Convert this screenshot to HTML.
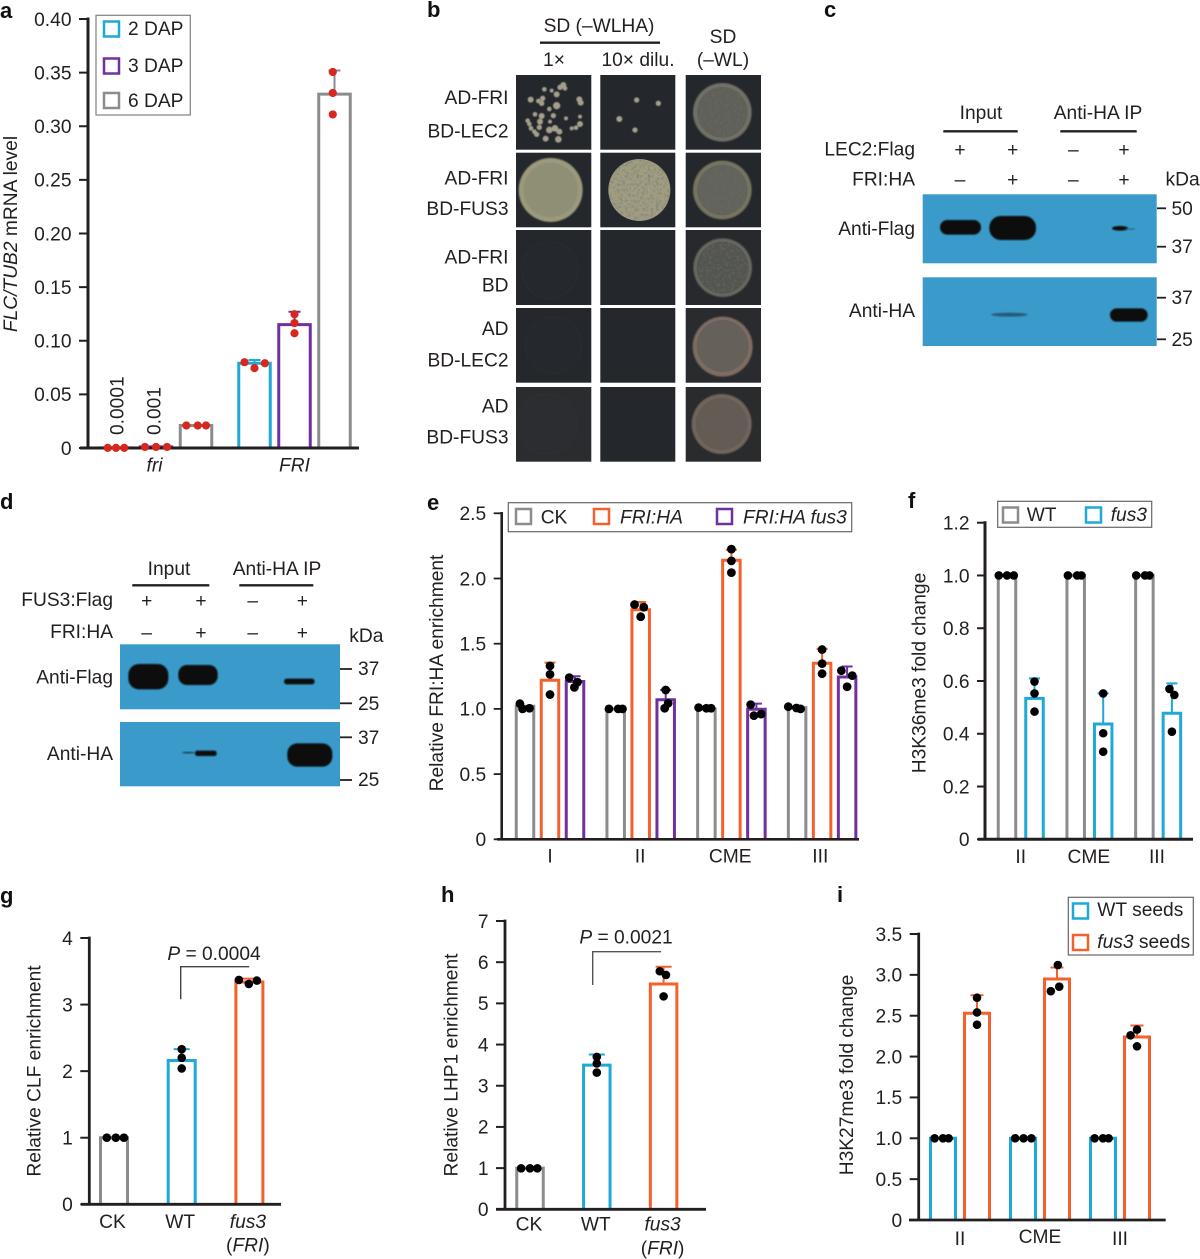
<!DOCTYPE html>
<html lang="en">
<head>
<meta charset="utf-8">
<title>FUS3 and LEC2 interaction with FRI figure</title>
<style>
html,body{margin:0;padding:0;background:#fff;}
svg{display:block;}
text{font-family:"Liberation Sans",sans-serif;font-size:19.2px;fill:#231f20;}
.pl{font-weight:bold;font-size:22px;fill:#111;}
.i{font-style:italic;}
</style>
</head>
<body>
<svg id="fig" xmlns="http://www.w3.org/2000/svg" width="1200" height="1259" viewBox="0 0 1200 1259">
<defs>
<filter id="blurS" x="-30%" y="-30%" width="160%" height="160%"><feGaussianBlur stdDeviation="2"/></filter>
<filter id="blurC" x="-40%" y="-40%" width="180%" height="180%"><feGaussianBlur stdDeviation="1.6"/></filter>
<filter id="grain" x="0" y="0" width="100%" height="100%">
<feTurbulence type="fractalNoise" baseFrequency="0.12" numOctaves="2" seed="4"/>
<feColorMatrix values="0 0 0 0 0.15  0 0 0 0 0.15  0 0 0 0 0.15  0 0 0 1.5 -0.66"/>
<feComposite in2="SourceGraphic" operator="in"/>
<feGaussianBlur stdDeviation="0.8"/>
<feMerge><feMergeNode in="SourceGraphic"/><feMergeNode/></feMerge>
</filter>
</defs>

<g>
<text class="pl" x="0" y="18">a</text>
<text class="pl" x="427" y="17">b</text>
<text class="pl" x="824" y="17">c</text>
<text class="pl" x="0" y="509">d</text>
<text class="pl" x="427" y="510">e</text>
<text class="pl" x="908" y="508">f</text>
<text class="pl" x="0" y="903">g</text>
<text class="pl" x="441" y="902">h</text>
<text class="pl" x="837" y="902">i</text>
</g>

<!-- Panel b -->
<g>
<text x="599" y="32" text-anchor="middle">SD (–WLHA)</text>
<line x1="540" y1="42.7" x2="660" y2="42.7" stroke="#231f20" stroke-width="2.4"/>
<text x="554" y="66" text-anchor="middle">1×</text>
<text x="638" y="66" text-anchor="middle">10× dilu.</text>
<text x="723" y="43" text-anchor="middle">SD</text>
<text x="723" y="66" text-anchor="middle">(–WL)</text>
<g text-anchor="end">
<text x="508.5" y="104">AD-FRI</text><text x="508.5" y="137.5">BD-LEC2</text>
<text x="508.5" y="184.5">AD-FRI</text><text x="508.5" y="215">BD-FUS3</text>
<text x="508.5" y="263.5">AD-FRI</text><text x="508.5" y="291.7">BD</text>
<text x="508.5" y="335">AD</text><text x="508.5" y="366.7">BD-LEC2</text>
<text x="508.5" y="412.7">AD</text><text x="508.5" y="443.5">BD-FUS3</text>
</g>
<g fill="#24272c">
<rect x="516" y="75" width="75.3" height="74.7"/><rect x="600.3" y="75" width="75" height="74.7"/><rect x="685.7" y="75" width="75.3" height="74.7"/>
<rect x="516" y="152.7" width="75.3" height="74.6"/><rect x="600.3" y="152.7" width="75" height="74.6"/><rect x="685.7" y="152.7" width="75.3" height="74.6"/>
<rect x="516" y="230" width="75.3" height="75"/><rect x="600.3" y="230" width="75" height="75"/><rect x="685.7" y="230" width="75.3" height="75" fill="#27292c"/>
<rect x="516" y="308" width="75.3" height="74.7"/><rect x="600.3" y="308" width="75" height="74.7"/><rect x="685.7" y="308" width="75.3" height="74.7" fill="#2a2b2e"/>
<rect x="516" y="387" width="75.3" height="74.7" fill="#2b2c2f"/><rect x="600.3" y="387" width="75" height="74.7"/><rect x="685.7" y="387" width="75.3" height="74.7" fill="#2a2b2d"/>
<g transform="translate(420 0) scale(0.33333)">
<g>
<circle cx="907" cy="337" r="88" fill="#6f7066" filter="url(#blurS)"/>
<circle cx="907" cy="337" r="76" fill="#5f6059" filter="url(#grain)"/>
<circle cx="392" cy="570" r="96" fill="#9c9a7c" filter="url(#blurS)"/>
<circle cx="392" cy="570" r="82" fill="#8f8f76" filter="url(#blurS)"/>
<circle cx="658" cy="570" r="93" fill="#a09d82" filter="url(#grain)"/>
<circle cx="907" cy="570" r="88" fill="#74745f" filter="url(#blurS)"/>
<circle cx="907" cy="570" r="76" fill="#62635a" filter="url(#grain)"/>
<circle cx="390" cy="810" r="85" fill="#25282d" stroke="#2c2f33" stroke-width="2"/>
<circle cx="908" cy="803" r="88" fill="#66675e" filter="url(#blurS)"/>
<circle cx="908" cy="803" r="78" fill="#53544f" filter="url(#grain)"/>
<circle cx="400" cy="1035" r="85" fill="#25282d" stroke="#2b2e32" stroke-width="2"/>
<circle cx="908" cy="1040" r="90" fill="#7d6c62" filter="url(#blurS)"/>
<circle cx="908" cy="1038" r="78" fill="#66605a"/>
<circle cx="380" cy="1272" r="90" fill="#2c2d30" stroke="#313235" stroke-width="2"/>
<circle cx="905" cy="1272" r="90" fill="#70655c" filter="url(#blurS)"/>
<circle cx="905" cy="1272" r="78" fill="#625c55"/>
</g>
<g fill="#a39f8a" filter="url(#blurC)">
<circle cx="373" cy="268" r="7"/><circle cx="395" cy="272" r="6"/><circle cx="430" cy="255" r="9"/><circle cx="420" cy="262" r="8"/><circle cx="435" cy="265" r="7"/><circle cx="410" cy="283" r="9"/><circle cx="332" cy="299" r="9"/><circle cx="355" cy="303" r="7"/><circle cx="368" cy="295" r="8"/><circle cx="365" cy="310" r="8"/><circle cx="388" cy="327" r="7"/><circle cx="410" cy="317" r="11"/><circle cx="478" cy="298" r="9"/><circle cx="482" cy="308" r="9"/><circle cx="345" cy="343" r="7"/><circle cx="365" cy="348" r="9"/><circle cx="400" cy="347" r="8"/><circle cx="438" cy="355" r="6"/><circle cx="480" cy="350" r="6"/><circle cx="323" cy="362" r="7"/><circle cx="328" cy="372" r="7"/><circle cx="360" cy="365" r="9"/><circle cx="390" cy="365" r="6"/><circle cx="480" cy="372" r="9"/><circle cx="333" cy="385" r="7"/><circle cx="358" cy="382" r="8"/><circle cx="388" cy="390" r="10"/><circle cx="405" cy="385" r="10"/><circle cx="418" cy="395" r="9"/><circle cx="455" cy="385" r="6"/><circle cx="468" cy="383" r="7"/><circle cx="350" cy="403" r="8"/><circle cx="377" cy="416" r="9"/><circle cx="415" cy="418" r="10"/><circle cx="343" cy="395" r="7"/>
<circle cx="650" cy="300" r="8"/><circle cx="715" cy="310" r="8"/><circle cx="598" cy="357" r="9"/><circle cx="645" cy="390" r="8"/>
</g>
</g>
</g>
</g>

<!-- Panel c -->
<g>
<text x="981" y="119" text-anchor="middle">Input</text>
<text x="1098" y="119" text-anchor="middle">Anti-HA IP</text>
<line x1="943.3" y1="131.3" x2="1017.7" y2="131.3" stroke="#231f20" stroke-width="2.4"/>
<line x1="1060.3" y1="131.3" x2="1136.7" y2="131.3" stroke="#231f20" stroke-width="2.4"/>
<g text-anchor="end">
<text x="915" y="155.7">LEC2:Flag</text>
<text x="915" y="185.7">FRI:HA</text>
<text x="915" y="235">Anti-Flag</text>
<text x="915" y="317">Anti-HA</text>
</g>
<g text-anchor="middle">
<text x="960" y="156">+</text><text x="1012.7" y="156">+</text><text x="1073.3" y="156">–</text><text x="1124" y="156">+</text>
<text x="960" y="186">–</text><text x="1012.7" y="186">+</text><text x="1073.3" y="186">–</text><text x="1124" y="186">+</text>
</g>
<text x="1165.5" y="185.5">kDa</text>
<rect x="922.7" y="194.3" width="234" height="69" fill="#3a9bca"/>
<rect x="922.7" y="277.3" width="234" height="68.7" fill="#3a9bca"/>
<g transform="translate(800 0) scale(0.33333)" fill="#0b0b0b">
<rect x="420" y="660" width="123" height="44" rx="22" filter="url(#blurS)"/>
<rect x="568" y="648" width="140" height="72" rx="34" filter="url(#blurS)"/>
<ellipse cx="960" cy="685" rx="24" ry="7" filter="url(#blurS)"/>
<ellipse cx="990" cy="687" rx="16" ry="2" fill="#2c5f7a" filter="url(#blurS)"/>
<ellipse cx="628" cy="944" rx="55" ry="6" fill="#275c78" filter="url(#blurS)"/>
<rect x="930" y="925" width="113" height="40" rx="20" filter="url(#blurS)"/>
</g>
<g stroke="#231f20" stroke-width="1.8">
<line x1="1157" y1="208.3" x2="1166" y2="208.3"/><line x1="1157" y1="246.7" x2="1166" y2="246.7"/><line x1="1157" y1="297.7" x2="1166" y2="297.7"/><line x1="1157" y1="339.3" x2="1166" y2="339.3"/>
</g>
<g>
<text x="1171.5" y="215">50</text><text x="1171.5" y="253">37</text><text x="1171.5" y="304">37</text><text x="1171.5" y="346">25</text>
</g>
</g>

<!-- Panel d -->
<g>
<text x="169" y="575" text-anchor="middle">Input</text>
<text x="277" y="575" text-anchor="middle">Anti-HA IP</text>
<line x1="132.3" y1="585.3" x2="209.3" y2="585.3" stroke="#231f20" stroke-width="2.4"/>
<line x1="239.3" y1="585.3" x2="313.3" y2="585.3" stroke="#231f20" stroke-width="2.4"/>
<g text-anchor="end">
<text x="113" y="606">FUS3:Flag</text>
<text x="113" y="638">FRI:HA</text>
<text x="113" y="683.3">Anti-Flag</text>
<text x="113" y="760">Anti-HA</text>
</g>
<g text-anchor="middle">
<text x="146.7" y="607">+</text><text x="201" y="607">+</text><text x="252.7" y="607">–</text><text x="302.3" y="607">+</text>
<text x="146.7" y="639">–</text><text x="201" y="639">+</text><text x="252.7" y="639">–</text><text x="302.3" y="639">+</text>
</g>
<text x="349.3" y="642">kDa</text>
<rect x="120" y="644.3" width="220" height="65" fill="#3a9bca"/>
<rect x="120" y="722" width="220" height="64.3" fill="#3a9bca"/>
<g transform="translate(0 490) scale(0.33333)" fill="#0b0b0b">
<rect x="385" y="522" width="120" height="76" rx="32" filter="url(#blurS)"/>
<rect x="535" y="525" width="118" height="60" rx="26" filter="url(#blurS)"/>
<rect x="852" y="566" width="92" height="17" rx="8" filter="url(#blurS)"/>
<ellipse cx="565" cy="788" rx="20" ry="3" fill="#1d4c66" filter="url(#blurS)"/>
<rect x="585" y="782" width="65" height="16" rx="7" filter="url(#blurS)"/>
<rect x="862" y="760" width="135" height="70" rx="30" filter="url(#blurS)"/>
</g>
<g stroke="#231f20" stroke-width="1.8">
<line x1="340" y1="669" x2="352" y2="669"/><line x1="340" y1="703.3" x2="352" y2="703.3"/><line x1="340" y1="737.3" x2="352" y2="737.3"/><line x1="340" y1="780" x2="352" y2="780"/>
</g>
<g>
<text x="358" y="675">37</text><text x="358" y="710">25</text><text x="358" y="744">37</text><text x="358" y="786">25</text>
</g>
</g>

<!-- Axis titles -->
<g>
<text transform="translate(17 234) rotate(-90)" text-anchor="middle"><tspan class="i">FLC/TUB2</tspan> mRNA level</text>
<text transform="translate(443 673) rotate(-90)" text-anchor="middle">Relative FRI:HA enrichment</text>
<text transform="translate(925.7 673) rotate(-90)" text-anchor="middle">H3K36me3 fold change</text>
<text transform="translate(40.7 1071) rotate(-90)" text-anchor="middle">Relative CLF enrichment</text>
<text transform="translate(457.7 1065) rotate(-90)" text-anchor="middle">Relative LHP1 enrichment</text>
<text transform="translate(853 1075) rotate(-90)" text-anchor="middle">H3K27me3 fold change</text>
</g>

<g id="charts"></g>

<!-- Annotations -->
<g>
<text transform="translate(123.5 435) rotate(-90)">0.0001</text>
<text transform="translate(160.7 435) rotate(-90)">0.001</text>
</g>
<g>
<text x="214" y="960" text-anchor="middle"><tspan class="i">P</tspan> = 0.0004</text>
<path d="M180.7 999.3V966.7H249.3" fill="none" stroke="#444" stroke-width="1.4"/>
</g>
<g>
<text x="626" y="943.5" text-anchor="middle"><tspan class="i">P</tspan> = 0.0021</text>
<path d="M592.7 985V951.7H661" fill="none" stroke="#555" stroke-width="1.4"/>
</g>

<!-- Legends -->
<g fill="none" stroke-width="2.5">
<rect x="96" y="15.3" width="94.3" height="99.7" fill="#fff" stroke="#7f7f7f" stroke-width="1.2"/>
<rect x="104" y="21.5" width="15" height="15" stroke="#1fa9d6"/>
<rect x="104" y="58.5" width="15" height="15" stroke="#7030a0"/>
<rect x="104" y="93" width="15" height="15" stroke="#8c8c8c"/>
<text x="128" y="35">2 DAP</text>
<text x="128" y="72">3 DAP</text>
<text x="128" y="107">6 DAP</text>
</g>
<g fill="none" stroke-width="2.5">
<rect x="508.3" y="502.7" width="343.4" height="29" fill="#fff" stroke="#666" stroke-width="1.2"/>
<rect x="516" y="509" width="15" height="15" stroke="#8c8c8c"/>
<rect x="594" y="509" width="15" height="15" stroke="#f4612d"/>
<rect x="717" y="509" width="15" height="15" stroke="#7030a0"/>
<text x="540.7" y="523.5">CK</text>
<text class="i" x="620" y="523.5">FRI:HA</text>
<text class="i" x="743" y="523.5">FRI:HA fus3</text>
</g>
<g fill="none" stroke-width="2.5">
<rect x="997.7" y="501.3" width="154" height="26" fill="#fff" stroke="#666" stroke-width="1.2"/>
<rect x="1003" y="507.5" width="15" height="15" stroke="#8c8c8c"/>
<rect x="1086" y="507.5" width="15" height="15" stroke="#1fa9d6"/>
<text x="1026.7" y="521">WT</text>
<text class="i" x="1110.7" y="521">fus3</text>
</g>
<g fill="none" stroke-width="2.5">
<rect x="1068.3" y="897.3" width="125" height="57.7" fill="#fff" stroke="#666" stroke-width="1.2"/>
<rect x="1073" y="903.5" width="15" height="15" stroke="#1fa9d6"/>
<rect x="1073" y="935" width="15" height="15" stroke="#f4612d"/>
<text x="1097.3" y="916">WT seeds</text>
<text x="1097.3" y="948"><tspan class="i">fus3</tspan> seeds</text>
</g>
</svg>

<script>
// ---------- Panel a ----------
const aCategories = ['fri', 'FRI'];
const aSeries = ['2 DAP', '3 DAP', '6 DAP'];
const aTickValues = [0, 0.05, 0.10, 0.15, 0.20, 0.25, 0.30, 0.35, 0.40];
const aTickLabels = ['0', '0.05', '0.10', '0.15', '0.20', '0.25', '0.30', '0.35', '0.40'];
const aMeans = [[0.0001, 0.001, 0.021], [0.079, 0.115, 0.33]];
const aErrors = [[0.0001, 0.001, 0.021], [0.082, 0.127, 0.352]];
const aPoints = [
  [[0.0001, 0.0001, 0.0001], [0.001, 0.001, 0.001], [0.021, 0.021, 0.021]],
  [[0.08, 0.0745, 0.079], [0.1247, 0.1165, 0.107], [0.3506, 0.331, 0.311]]
];
const aSpread = [
  [[-0.24, 0, 0.24], [-0.32, 0, 0.32], [-0.28, 0.05, 0.29]],
  [[-0.29, 0, 0.3], [0, 0, 0], [-0.05, -0.05, -0.05]]
];

// ---------- Panel e ----------
const eCategories = ['I', 'II', 'CME', 'III'];
const eSeries = ['CK', 'FRI:HA', 'FRI:HA fus3'];
const eTickValues = [0, 0.5, 1.0, 1.5, 2.0, 2.5];
const eTickLabels = ['0', '0.5', '1.0', '1.5', '2.0', '2.5'];
const eMeans = [[1.02, 1.22, 1.21], [1.0, 1.76, 1.07], [1.0, 2.14, 0.997], [1.01, 1.35, 1.245]];
const eErrors = [[1.02, 1.355, 1.25], [1.0, 1.82, 1.145], [1.0, 2.22, 1.04], [1.01, 1.46, 1.325]];
const ePoints = [
  [[1.04, 1.0, 1.005], [1.33, 1.265, 1.11], [1.24, 1.205, 1.165]],
  [[1.0, 1.0, 1.0], [1.8, 1.78, 1.707], [1.145, 1.043, 1.005]],
  [[1.01, 1.005, 1.005], [2.225, 2.135, 2.045], [1.033, 0.948, 0.96]],
  [[1.017, 1.007, 1.0], [1.455, 1.347, 1.27], [1.293, 1.255, 1.17]]
];
const eSpread = [
  [[-0.25, -0.12, 0.22], [0, 0, 0], [-0.28, 0.12, -0.03]],
  [[-0.33, 0.12, 0.33], [-0.3, 0.15, 0], [0, 0.12, -0.05]],
  [[-0.38, 0, 0.23], [0, 0, 0], [-0.28, -0.12, 0.23]],
  [[-0.43, -0.03, 0.17], [0, 0, 0], [-0.28, 0.25, 0]]
];

// ---------- Panel f ----------
const fCategories = ['II', 'CME', 'III'];
const fSeries = ['WT', 'fus3'];
const fTickValues = [0, 0.2, 0.4, 0.6, 0.8, 1.0, 1.2];
const fTickLabels = ['0', '0.2', '0.4', '0.6', '0.8', '1.0', '1.2'];
const fMeans = [[1.0, 0.534], [1.0, 0.437], [1.0, 0.478]];
const fErrors = [[1.0, 0.61], [1.0, 0.553], [1.0, 0.591]];
const fPoints = [
  [[1.0, 1.0, 1.0], [0.598, 0.553, 0.484]],
  [[1.0, 1.0, 1.0], [0.553, 0.402, 0.332]],
  [[1.0, 1.0, 1.0], [0.57, 0.547, 0.408]]
];
const fSpread = [
  [[-0.4, 0, 0.33], [0, 0, 0]],
  [[-0.38, 0.07, 0.28], [0, 0, 0]],
  [[-0.4, 0.03, 0.25], [-0.12, 0.12, 0]]
];

// ---------- Panel g ----------
const gCategories = ['CK', 'WT', 'fus3'];
const gSeries = ['enrichment'];
const gTickValues = [0, 1, 2, 3, 4];
const gTickLabels = ['0', '1', '2', '3', '4'];
const gMeans = [[1.0], [2.16], [3.34]];
const gErrors = [[1.0], [2.33], [3.39]];
const gPoints = [[[1.0, 1.0, 1.0]], [[2.33, 2.2, 2.04]], [[3.37, 3.31, 3.36]]];
const gSpread = [[[-0.24, 0.06, 0.33]], [[0, 0, 0]], [[-0.35, -0.02, 0.25]]];

// ---------- Panel h ----------
const hCategories = ['CK', 'WT', 'fus3'];
const hSeries = ['enrichment'];
const hTickValues = [0, 1, 2, 3, 4, 5, 6, 7];
const hTickLabels = ['0', '1', '2', '3', '4', '5', '6', '7'];
const hMeans = [[1.0], [3.5], [5.47]];
const hErrors = [[1.0], [3.76], [5.89]];
const hPoints = [[[0.995, 0.995, 0.995]], [[3.7, 3.54, 3.32]], [[5.78, 5.69, 5.17]]];
const hSpread = [[[-0.3, 0, 0.25]], [[0, 0, 0]], [[-0.13, 0.08, 0]]];

// ---------- Panel i ----------
const iCategories = ['II', 'CME', 'III'];
const iSeries = ['WT seeds', 'fus3 seeds'];
const iTickValues = [0, 0.5, 1.0, 1.5, 2.0, 2.5, 3.0, 3.5];
const iTickLabels = ['0', '0.5', '1.0', '1.5', '2.0', '2.5', '3.0', '3.5'];
const iMeans = [[1.0, 2.53], [1.0, 2.95], [1.0, 2.24]];
const iErrors = [[1.0, 2.75], [1.0, 3.09], [1.0, 2.38]];
const iPoints = [
  [[1.0, 1.0, 1.0], [2.72, 2.54, 2.39]],
  [[1.0, 1.0, 1.0], [3.12, 2.855, 2.8]],
  [[1.0, 1.0, 1.0], [2.33, 2.26, 2.125]]
];
const iSpread = [
  [[-0.3, 0, 0.2], [0, 0, 0]],
  [[-0.28, 0.02, 0.3], [0.03, 0.08, -0.22]],
  [[-0.3, 0, 0.2], [0, -0.23, 0]]
];

// ---------- Shared colours ----------
const BLUE = '#1fa9d6', PURPLE = '#7030a0', GRAY = '#8c8c8c', ORANGE = '#f4612d', RED = '#d6281f', BLACK = '#000';

const NS = 'http://www.w3.org/2000/svg';
const root = document.getElementById('charts');

function make(parent, tag, attrs, txt) {
  const el = document.createElementNS(NS, tag);
  for (const k in attrs) el.setAttribute(k, attrs[k]);
  if (txt !== undefined) el.textContent = txt;
  parent.appendChild(el);
  return el;
}

function drawChart(c) {
  const y = v => c.y0 - (v / c.yMax) * (c.y0 - c.yTop);
  const x = (gi, si) => c.x0 + gi * c.groupStep + si * c.barStep;

  const panel = make(root, 'g', {});
  
  

  // bars
  c.means.forEach((group, gi) => {
    group.forEach((m, si) => {
      const cx = x(gi, si);
      const hw = (c.barWidth - c.sw) / 2;
      const col = c.colorOf(gi, si);
      const bar = make(panel, 'path', {
        d: `M${cx - hw} ${c.y0}V${y(m)}H${cx + hw}V${c.y0}`,
        fill: '#fff', stroke: col, 'stroke-width': c.sw
      });
      
      
      const top = c.errors[gi][si];
      if (top > m) {
        const err = make(panel, 'path', {
          d: `M${cx} ${y(m)}V${y(top)}M${cx - c.cap} ${y(top)}H${cx + c.cap}`,
          fill: 'none', stroke: col, 'stroke-width': 2
        });
        
        
      }
    });
  });

  // axes
  const yAxis = make(panel, 'line', { x1: c.axisX, x2: c.axisX, y1: c.yTop - c.axisW / 2, y2: c.y0, stroke: '#231f20', 'stroke-width': c.axisW });
  
  
  const xAxis = make(panel, 'line', { x1: c.baseL, x2: c.baseR, y1: c.y0, y2: c.y0, stroke: '#231f20', 'stroke-width': c.axisW });
  
  

  c.ticks.forEach((t, i) => {
    const tick = make(panel, 'line', { x1: c.axisX - c.tickLen, x2: c.axisX, y1: y(t), y2: y(t), stroke: '#231f20', 'stroke-width': c.tickW });
    
    
    const lab = make(panel, 'text', { x: c.axisX - c.tickLen - 7.5, y: y(t) + 6.8, 'text-anchor': 'end' }, c.tickLabels[i]);
    
    
  });

  // points
  c.points.forEach((group, gi) => {
    group.forEach((pts, si) => {
      pts.forEach((v, pi) => {
        const dot = make(panel, 'circle', {
          cx: x(gi, si) + c.spread[gi][si][pi] * c.barWidth,
          cy: y(v), r: c.r, fill: c.dot
        });
        
        
      });
    });
  });

  // category labels
  c.categories.forEach((name, gi) => {
    const lab = make(panel, 'text', {
      x: c.labelX(gi, x), y: c.labelY(gi), 'text-anchor': 'middle'
    }, name);
    if (c.italicLabels(name)) lab.style.fontStyle = 'italic';
    
    
    if (name === 'fus3') {
      const sub = make(panel, 'text', { x: c.labelX(gi, x), y: c.labelY(gi) + 23.7, 'text-anchor': 'middle' });
      
      
      sub.appendChild(document.createTextNode('('));
      const ts = make(sub, 'tspan', {}, 'FRI');
      ts.style.fontStyle = 'italic';
      sub.appendChild(document.createTextNode(')'));
    }
  });
}

drawChart({
  id: 'a', categories: aCategories, series: aSeries, ticks: aTickValues, tickLabels: aTickLabels,
  means: aMeans, errors: aErrors, points: aPoints, spread: aSpread,
  x0: 116, groupStep: 138.5, barStep: 40, barWidth: 34.5, sw: 3, cap: 6,
  y0: 448, yTop: 19, yMax: 0.4, axisX: 88, baseL: 80, baseR: 359, axisW: 3, tickLen: 9, tickW: 2,
  r: 4.1, dot: RED,
  colorOf: (g, s) => [BLUE, PURPLE, GRAY][s],
  labelX: (g, x) => x(g, 1) - (g ? 0 : 1.5), labelY: () => 471.7, italicLabels: () => true
});
drawChart({
  id: 'e', categories: eCategories, series: eSeries, ticks: eTickValues, tickLabels: eTickLabels,
  means: eMeans, errors: eErrors, points: ePoints, spread: eSpread,
  x0: 525, groupStep: 90.7, barStep: 25, barWidth: 20.5, sw: 3, cap: 5.5,
  y0: 839.3, yTop: 513.3, yMax: 2.5, axisX: 501.7, baseL: 497, baseR: 859, axisW: 2.6, tickLen: 8, tickW: 1.8,
  r: 4.4, dot: BLACK,
  colorOf: (g, s) => [GRAY, ORANGE, PURPLE][s],
  labelX: (g, x) => x(g, 1) - g * 0.6, labelY: () => 862.7, italicLabels: () => false
});
drawChart({
  id: 'f', categories: fCategories, series: fSeries, ticks: fTickValues, tickLabels: fTickLabels,
  means: fMeans, errors: fErrors, points: fPoints, spread: fSpread,
  x0: 1007, groupStep: 68.7, barStep: 27.5, barWidth: 20.5, sw: 3, cap: 5.5,
  y0: 839.3, yTop: 522.7, yMax: 1.2, axisX: 985, baseL: 978, baseR: 1193, axisW: 3, tickLen: 8, tickW: 2,
  r: 4.3, dot: BLACK,
  colorOf: (g, s) => [GRAY, BLUE][s],
  labelX: (g, x) => x(g, 0.5) - g * 0.6, labelY: () => 863, italicLabels: () => false
});
drawChart({
  id: 'g', categories: gCategories, series: gSeries, ticks: gTickValues, tickLabels: gTickLabels,
  means: gMeans, errors: gErrors, points: gPoints, spread: gSpread,
  x0: 114, groupStep: 67.7, barStep: 0, barWidth: 30, sw: 3, cap: 8,
  y0: 1204.3, yTop: 938, yMax: 4, axisX: 89.3, baseL: 81, baseR: 281, axisW: 2.8, tickLen: 9, tickW: 2,
  r: 4.3, dot: BLACK,
  colorOf: g => [GRAY, BLUE, ORANGE][g],
  labelX: (g, x) => x(g, 0) - 1.5, labelY: () => 1228, italicLabels: n => n === 'fus3'
});
drawChart({
  id: 'h', categories: hCategories, series: hSeries, ticks: hTickValues, tickLabels: hTickLabels,
  means: hMeans, errors: hErrors, points: hPoints, spread: hSpread,
  x0: 530, groupStep: 66.8, barStep: 0, barWidth: 29.5, sw: 3, cap: 8,
  y0: 1209.3, yTop: 921, yMax: 7, axisX: 505, baseL: 496, baseR: 706, axisW: 2.8, tickLen: 9, tickW: 2,
  r: 4.3, dot: BLACK,
  colorOf: g => [GRAY, BLUE, ORANGE][g],
  labelX: (g, x) => x(g, 0) - 1, labelY: () => 1230.7, italicLabels: n => n === 'fus3'
});
drawChart({
  id: 'i', categories: iCategories, series: iSeries, ticks: iTickValues, tickLabels: iTickLabels,
  means: iMeans, errors: iErrors, points: iPoints, spread: iSpread,
  x0: 943, groupStep: 80, barStep: 34, barWidth: 28, sw: 3, cap: 6.5,
  y0: 1220, yTop: 934, yMax: 3.5, axisX: 918.7, baseL: 909, baseR: 1165.7, axisW: 2.8, tickLen: 9, tickW: 2,
  r: 4.3, dot: BLACK,
  colorOf: (g, s) => [BLUE, ORANGE][s],
  labelX: (g, x) => x(g, 0.5), labelY: g => g === 1 ? 1243 : 1245, italicLabels: () => false
});
</script>
</body>
</html>
